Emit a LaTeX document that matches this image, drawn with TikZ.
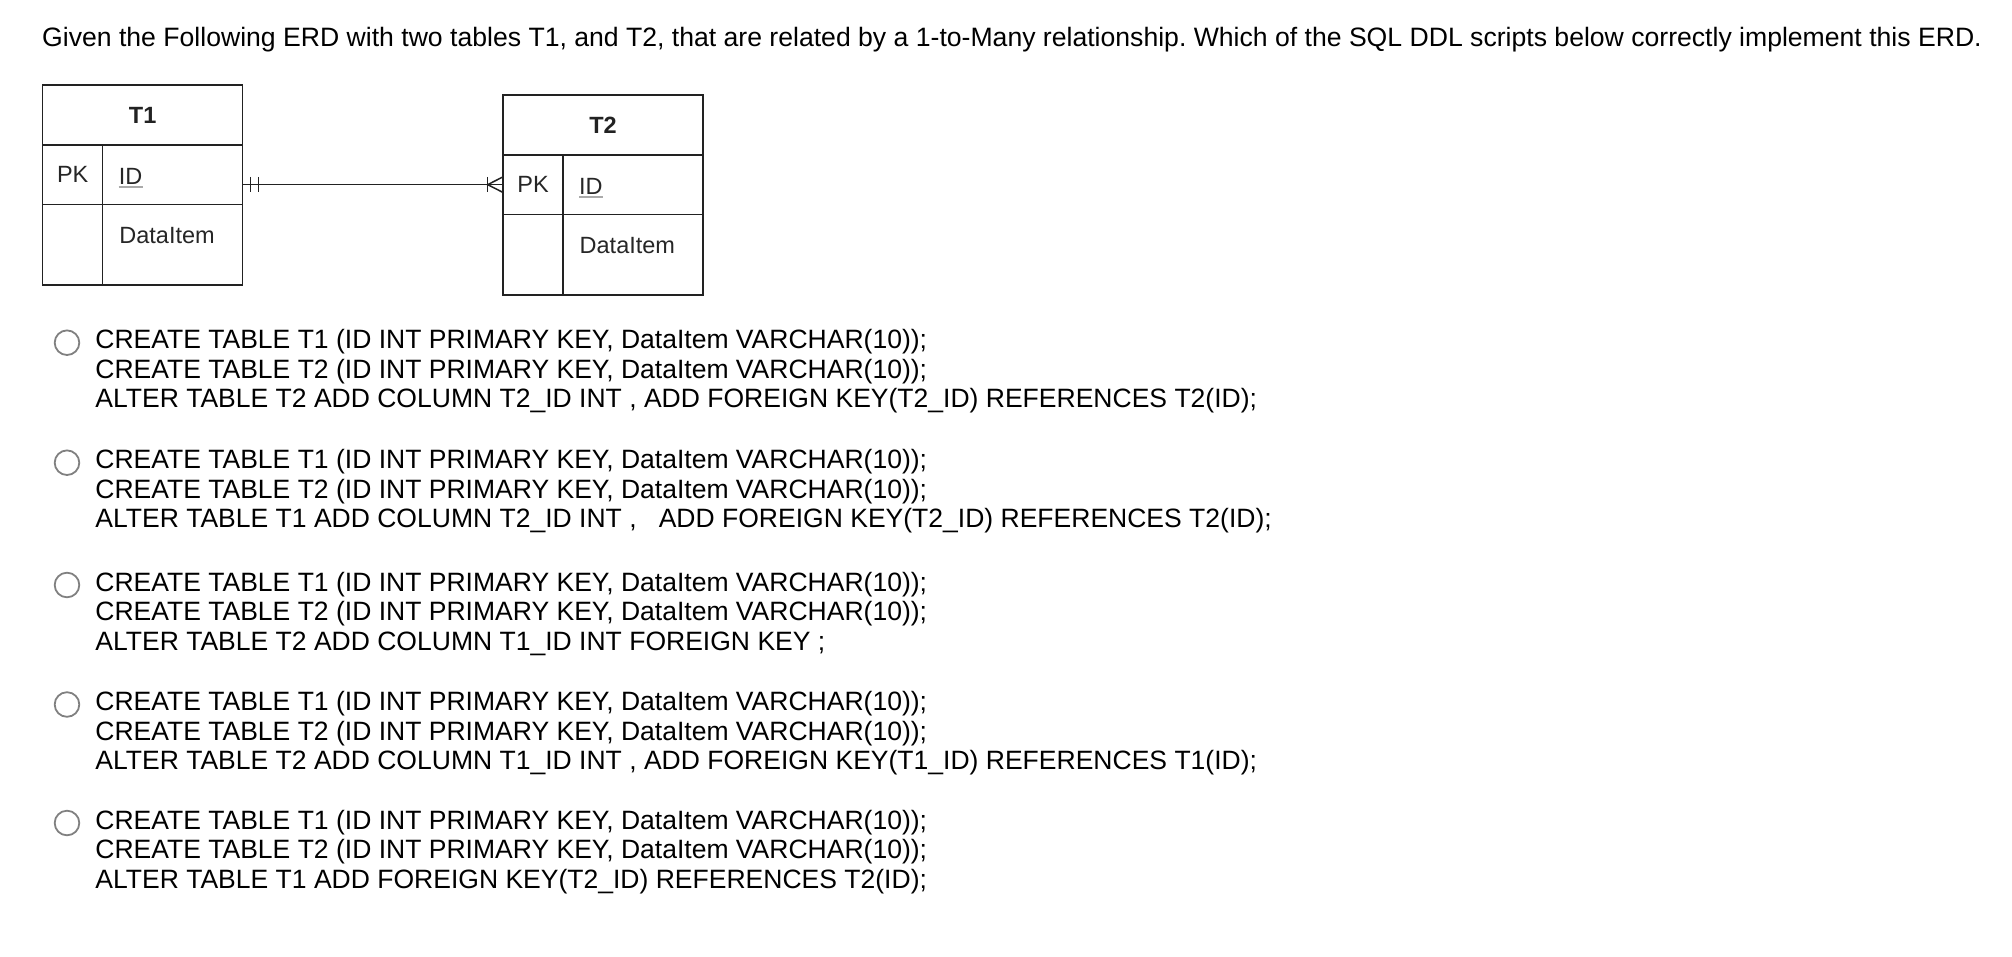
\documentclass[tikz,border=0pt]{standalone}
\usepackage{fontspec}
\usepackage{xcolor}
\setmainfont{Liberation Sans}
\usetikzlibrary{positioning}
\frenchspacing

\definecolor{erdline}{HTML}{222222}
\definecolor{erdtext}{HTML}{262626}
\definecolor{radiogrey}{HTML}{808080}
\definecolor{ulgrey}{HTML}{AAAAAA}

\newcommand\titlefont{\fontsize{26.6pt}{30pt}\selectfont}
\newcommand\optfont{\fontsize{26.52pt}{29.5pt}\selectfont}
\newcommand\erdfont{\fontsize{23.5pt}{28pt}\selectfont}

\tikzset{
  erd/.style={draw=erdline, line width=1.5pt, inner sep=0pt, outer sep=0pt},
  hdr/.style={erd, minimum width=200pt, minimum height=60pt, font=\erdfont\bfseries, text=erdline},
  keycell/.style={erd, minimum width=60pt, minimum height=59.3pt, font=\erdfont, text=erdtext},
  fldcell/.style={erd, minimum width=140pt, minimum height=59.3pt},
  blankcell/.style={erd, minimum width=60pt, minimum height=80.7pt},
  datcell/.style={erd, minimum width=140pt, minimum height=80.7pt},
  fld/.style={font=\erdfont, text=erdtext, inner sep=0pt, anchor=base west},
  uline/.style={draw=ulgrey, line width=1.5pt},
  rel/.style={draw=erdline, line width=1.5pt},
  radio/.style={circle, draw=radiogrey, line width=1.8pt, minimum size=24.6pt, inner sep=0pt},
  opt/.style={font=\optfont, align=left, inner sep=0pt, anchor=north west},
}

\begin{document}
\begin{tikzpicture}[x=1pt, y=-1pt]
\useasboundingbox (0,0) rectangle (2012,956);

% question
\node[font=\titlefont, inner sep=0pt, anchor=base west] (title) at (42,46.7)
  {Given the Following ERD with two tables T1, and T2, that are related by a 1-to-Many relationship. Which of the SQL DDL scripts below correctly implement this ERD.};

% table T1
\node[hdr, anchor=north west] (t1) at (42.7,85) {T1};
\node[keycell, anchor=north west] (t1pk) at (t1.south west) {PK};
\node[fldcell, anchor=north west] (t1id) at (t1pk.north east) {};
\node[blankcell, anchor=north west] (t1blank) at (t1pk.south west) {};
\node[datcell, anchor=north west] (t1dat) at (t1blank.north east) {};
\node[fld] (t1idtxt) at ([xshift=16pt,yshift=-39.3pt]t1id.north west) {ID};
\node[fld] (t1dattxt) at ([xshift=16.5pt,yshift=-39pt]t1dat.north west) {DataItem};
\draw[uline] ([yshift=-2.5pt]t1idtxt.base west) -- ([yshift=-2.5pt]t1idtxt.base east);

% table T2
\node[hdr, anchor=north west] (t2) at (503,95) {T2};
\node[keycell, anchor=north west] (t2pk) at (t2.south west) {PK};
\node[fldcell, anchor=north west] (t2id) at (t2pk.north east) {};
\node[blankcell, anchor=north west] (t2blank) at (t2pk.south west) {};
\node[datcell, anchor=north west] (t2dat) at (t2blank.north east) {};
\node[fld] (t2idtxt) at ([xshift=16pt,yshift=-39.3pt]t2id.north west) {ID};
\node[fld] (t2dattxt) at ([xshift=16.5pt,yshift=-39pt]t2dat.north west) {DataItem};
\draw[uline] ([yshift=-2.5pt]t2idtxt.base west) -- ([yshift=-2.5pt]t2idtxt.base east);

% one to many
\coordinate (r1) at (t2pk.west -| t1id.east);
\draw[rel] (r1) -- (t2pk.west);
\draw[rel] ([xshift=8pt,yshift=7.8pt]r1) -- ([xshift=8pt,yshift=-7.8pt]r1);
\draw[rel] ([xshift=15.6pt,yshift=7.8pt]r1) -- ([xshift=15.6pt,yshift=-7.8pt]r1);
\draw[rel] ([xshift=-15.3pt,yshift=7.8pt]t2pk.west) -- ([xshift=-15.3pt,yshift=-7.8pt]t2pk.west);
\draw[rel] ([yshift=7.8pt]t2pk.west) -- ([xshift=-15.3pt]t2pk.west) -- ([yshift=-7.8pt]t2pk.west);

% answers
\node[radio] (o1) at (67,342.7) {};
\node[opt] (q1) at ([xshift=15pt]o1.east |- o1.north)
  {CREATE TABLE T1 (ID INT PRIMARY KEY, DataItem VARCHAR(10));\\
   CREATE TABLE T2 (ID INT PRIMARY KEY, DataItem VARCHAR(10));\\
   ALTER TABLE T2 ADD COLUMN T2\_ID INT , ADD FOREIGN KEY(T2\_ID) REFERENCES T2(ID);};

\node[radio] (o2) at (67,462.7) {};
\node[opt] (q2) at ([xshift=15pt]o2.east |- o2.north)
  {CREATE TABLE T1 (ID INT PRIMARY KEY, DataItem VARCHAR(10));\\
   CREATE TABLE T2 (ID INT PRIMARY KEY, DataItem VARCHAR(10));\\
   ALTER TABLE T1 ADD COLUMN T2\_ID INT , \ \ ADD FOREIGN KEY(T2\_ID) REFERENCES T2(ID);};

\node[radio] (o3) at (67,585) {};
\node[opt] (q3) at ([xshift=15pt]o3.east |- o3.north)
  {CREATE TABLE T1 (ID INT PRIMARY KEY, DataItem VARCHAR(10));\\
   CREATE TABLE T2 (ID INT PRIMARY KEY, DataItem VARCHAR(10));\\
   ALTER TABLE T2 ADD COLUMN T1\_ID INT FOREIGN KEY ;};

\node[radio] (o4) at (67,704.5) {};
\node[opt] (q4) at ([xshift=15pt]o4.east |- o4.north)
  {CREATE TABLE T1 (ID INT PRIMARY KEY, DataItem VARCHAR(10));\\
   CREATE TABLE T2 (ID INT PRIMARY KEY, DataItem VARCHAR(10));\\
   ALTER TABLE T2 ADD COLUMN T1\_ID INT , ADD FOREIGN KEY(T1\_ID) REFERENCES T1(ID);};

\node[radio] (o5) at (67,823) {};
\node[opt] (q5) at ([xshift=15pt]o5.east |- o5.north)
  {CREATE TABLE T1 (ID INT PRIMARY KEY, DataItem VARCHAR(10));\\
   CREATE TABLE T2 (ID INT PRIMARY KEY, DataItem VARCHAR(10));\\
   ALTER TABLE T1 ADD FOREIGN KEY(T2\_ID) REFERENCES T2(ID);};
\end{tikzpicture}
\end{document}
